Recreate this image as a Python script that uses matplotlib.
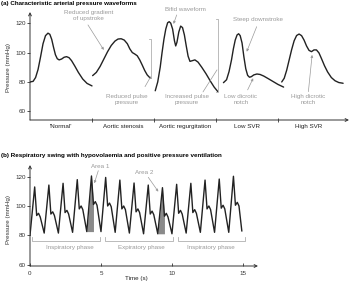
import numpy as np
import matplotlib
matplotlib.use("Agg")
import matplotlib.pyplot as plt

plt.rcParams['font.family'] = ['Liberation Sans', 'DejaVu Sans']

# ---- panel (a): characteristic waveforms (x in category widths, y in mmHg)
categories = ["'Normal'", "Aortic stenosis", "Aortic regurgitation", "Low SVR", "High SVR"]

normal_x = [0, 0.05, 0.09, 0.13, 0.17, 0.21, 0.25, 0.29, 0.32, 0.35, 0.38, 0.41,
            0.44, 0.47, 0.51, 0.55, 0.59, 0.63, 0.67, 0.72, 0.78, 0.85, 0.92, 1.0]
normal_y = [80, 80.4, 83, 88.5, 97, 106, 111.5, 113.2, 112.4, 109, 103.5, 98.5,
            95.8, 95, 95.6, 96.8, 97.2, 96.5, 94.5, 91, 86.5, 82, 79, 77.3]

stenosis_x = [1.01, 1.07, 1.13, 1.19, 1.25, 1.31, 1.37, 1.42, 1.47, 1.52, 1.57,
              1.61, 1.65, 1.69, 1.73, 1.77, 1.81, 1.85, 1.89, 1.93, 1.95]
stenosis_y = [84.3, 86.5, 90.5, 95.5, 100.5, 104.8, 107.8, 109.2, 109.4, 108.5, 106,
              102.5, 100, 99, 97.8, 95, 91.5, 87.8, 84.8, 83, 82.5]

regurg_x = [2.02, 2.06, 2.10, 2.13, 2.16, 2.19, 2.22, 2.245, 2.27, 2.30, 2.33, 2.35,
            2.37, 2.40, 2.43, 2.46, 2.49, 2.52, 2.55, 2.58, 2.62, 2.66, 2.71, 2.77,
            2.84, 2.91, 2.97, 3.03]
regurg_y = [74, 80, 90, 100, 109, 116, 120.3, 121, 120, 116, 108, 104.5,
            107, 114, 118, 117, 112, 104.5, 97.5, 94, 94.5, 95, 93.5, 90,
            85.5, 80.5, 76.5, 73.4]

low_svr_x = [3.12, 3.17, 3.21, 3.25, 3.28, 3.31, 3.34, 3.365, 3.39, 3.42, 3.45, 3.48,
             3.51, 3.54, 3.57, 3.61, 3.66, 3.71, 3.77, 3.84, 3.92, 4.0, 4.09]
low_svr_y = [79.5, 81.5, 87, 95, 102.5, 108.5, 112, 112.8, 111.5, 106.5, 97, 89,
             84.5, 83.2, 83.6, 84.8, 85.4, 85.1, 84, 82.3, 80.3, 78.3, 76.5]

high_svr_x = [4.06, 4.10, 4.14, 4.18, 4.22, 4.26, 4.30, 4.34, 4.38, 4.42, 4.46, 4.50,
              4.54, 4.58, 4.62, 4.66, 4.70, 4.75, 4.80, 4.86, 4.92, 4.98, 5.05]
high_svr_y = [80, 82.5, 88, 95, 102, 108, 111.6, 112.6, 111.5, 108.5, 104.5, 101.5,
              100.6, 101.8, 101.8, 99.8, 96, 91, 86.8, 83, 80.8, 79.6, 79.1]

# pulse pressure bars (x, low, high)
stenosis_bar = (1.95, 83, 109.4)
regurg_bar = (3.03, 73.2, 122.9)

# ---- panel (b): respiratory swing, one beat per second
beat_start = [0, 1, 2, 3, 4, 5, 6, 7, 8, 9, 10, 11, 12, 13, 14]
beat_trough = [80, 81.5, 81.5, 82, 82.5, 82.5, 82, 81.5, 81, 81, 81, 81.5, 82, 82, 82]
beat_peak = [113, 114.3, 115.5, 118, 120.5, 119.5, 117.7, 115.7, 114.3, 112.5,
             114.8, 115.5, 117.7, 118.4, 120.3]
beat_notch = [93.5, 94.5, 95.5, 98, 101, 100, 98, 96, 94.5, 93,
              95, 95.5, 98, 98.5, 100.5]
beat_bump = [95, 96, 97, 100, 103, 102, 100, 98, 96.5, 95,
             97, 97.5, 100, 100.5, 102.5]
beat_after = [92.5, 93.5, 94.5, 97.5, 100.5, 99.5, 97.5, 95.5, 94, 92.5,
              94.5, 95, 97.5, 98, 100]
end_time, end_value = 14.92, 83
area_beats = [4, 9]

phase_labels = ["Inspiratory phase", "Expiratory phase", "Inspiratory phase"]
phase_spans = [(0.12, 4.9), (5.28, 10.07), (10.4, 15.14)]
phase_text_x = [2.83, 7.86, 12.77]

ink = '#222222'
axis_col = '#333333'
grey = '#9a9a9a'
fs = 4.5

fig = plt.figure(figsize=(3.5, 2.83), dpi=100)


def arrow_axes(ax):
    for s in ax.spines.values():
        s.set_visible(False)
    kw = dict(arrowstyle='->', lw=0.7, color=axis_col, shrinkA=0, shrinkB=0,
              mutation_scale=5)
    ax.annotate('', xy=(0, 1), xytext=(0, 0), xycoords='axes fraction', arrowprops=kw)
    ax.annotate('', xy=(1, 0), xytext=(0, 0), xycoords='axes fraction', arrowprops=kw)
    ax.patch.set_alpha(0)


def note(ax, txt, xy, xytext, head=True):
    ax.annotate(txt, xy=xy, xytext=xytext, color=grey, fontsize=fs,
                arrowprops=dict(arrowstyle='-|>' if head else '-', color=grey, lw=0.5,
                                mutation_scale=3.5, shrinkA=0, shrinkB=0))


def label(ax, txt, x, y):
    ax.text(x, y, txt, color=grey, fontsize=fs, ha='center', va='center', linespacing=1.2)


# ---------------- panel (a)
ax = fig.add_axes([30 / 350, 1 - 120 / 283, 319 / 350, 108 / 283])
ax.set_xlim(0, 5.145)
ax.set_ylim(54.1, 127.6)
arrow_axes(ax)
for xs, ys in [(normal_x, normal_y), (stenosis_x, stenosis_y), (regurg_x, regurg_y),
               (low_svr_x, low_svr_y), (high_svr_x, high_svr_y)]:
    ax.plot(xs, ys, color=ink, lw=1.0, solid_joinstyle='round', solid_capstyle='round')

for bx, lo, hi in [stenosis_bar, regurg_bar]:
    ax.plot([bx - 0.03, bx, bx, bx - 0.03], [hi, hi, lo, lo], color='#b0b0b0', lw=0.6)

ax.set_yticks([60, 80, 100, 120])
ax.set_xticks([1, 2, 3, 4])
ax.set_xticklabels([])
ax.set_xticks([0.5, 1.5, 2.5, 3.5, 4.5], minor=True)
ax.set_xticklabels(categories, minor=True)
ax.tick_params(axis='y', direction='out', length=2, width=0.6, color=axis_col,
               labelsize=fs, labelcolor=axis_col, pad=1)
ax.tick_params(axis='x', which='major', direction='inout', length=3, width=0.6, color=axis_col)
ax.tick_params(axis='x', which='minor', length=0, labelsize=fs, labelcolor=ink, pad=3)

label(ax, "Reduced gradient\nof upstroke", 0.95, 125.4)
note(ax, '', (1.19, 101.8), (0.935, 118.8))
label(ax, "Reduced pulse\npressure", 1.56, 68.0)
note(ax, '', (1.947, 83.6), (1.855, 76.8), head=False)
label(ax, "Bifid waveform", 2.5, 129.5)
note(ax, '', (2.315, 119.5), (2.366, 125.6))
label(ax, "Increased pulse\npressure", 2.53, 68.0)
note(ax, '', (3.016, 88.2), (2.79, 73.2), head=False)
label(ax, "Steep downstroke", 3.68, 122.2)
note(ax, '', (3.495, 100.6), (3.656, 117.6))
label(ax, "Low dicrotic\nnotch", 3.40, 68.0)
note(ax, '', (3.60, 82.5), (3.51, 74.6))
label(ax, "High dicrotic\nnotch", 4.48, 68.0)
note(ax, '', (4.55, 98.4), (4.49, 73.4))

# ---------------- panel (b)
bx_ax = fig.add_axes([30 / 350, 1 - 266 / 283, 228 / 350, 101 / 283])
bx_ax.set_xlim(0, 16.06)
bx_ax.set_ylim(59.0, 128)
arrow_axes(bx_ax)

t, p = [], []
for k, t0 in enumerate(beat_start):
    t += [t0, t0 + 0.33, t0 + 0.47, t0 + 0.6, t0 + 0.72]
    p += [beat_trough[k], beat_peak[k], beat_notch[k], beat_bump[k], beat_after[k]]
t.append(end_time)
p.append(end_value)

for k in area_beats:
    i0 = 5 * k
    bx_ax.fill_between(t[i0:i0 + 3], p[i0:i0 + 3], beat_trough[k], color='#8a8a8a', lw=0)
bx_ax.plot(t, p, color=ink, lw=1.0, solid_joinstyle='round')

for (a, b), txt, tx in zip(phase_spans, phase_labels, phase_text_x):
    bx_ax.plot([a, a, b, b], [78.8, 76.3, 76.3, 78.8], color='#b0b0b0', lw=0.6)
    label(bx_ax, txt, tx, 71.5)

label(bx_ax, "Area 1", 4.93, 127.3)
note(bx_ax, '', (4.53, 115.5), (4.81, 124.1))
label(bx_ax, "Area 2", 8.05, 122.7)
note(bx_ax, '', (9.04, 109.8), (8.33, 119.6))

bx_ax.set_yticks([60, 80, 100, 120])
bx_ax.set_xticks([0, 5, 10, 15])
bx_ax.tick_params(axis='y', direction='out', length=2, width=0.6, color=axis_col,
                  labelsize=fs, labelcolor=axis_col, pad=1)
bx_ax.tick_params(axis='x', direction='in', length=2, width=0.6, color=axis_col,
                  labelsize=fs, labelcolor=axis_col, pad=3.5)
bx_ax.text(7.5, 50.4, "Time (s)", fontsize=fs, color=ink, ha='center', va='center')

# titles and y labels
fig.text(0.003, 1 - 4 / 283, "(a) Characteristic arterial pressure waveforms",
         fontsize=4.5, fontweight='bold', color='black', va='center')
fig.text(0.003, 1 - 156 / 283,
         "(b) Respiratory swing with hypovolaemia and positive pressure ventilation",
         fontsize=4.5, fontweight='bold', color='black', va='center')
fig.text(8.3 / 350, 1 - 68 / 283, "Pressure (mmHg)", rotation=90, fontsize=fs,
         color=axis_col, ha='center', va='center')
fig.text(8.3 / 350, 1 - 220 / 283, "Pressure (mmHg)", rotation=90, fontsize=fs,
         color=axis_col, ha='center', va='center')

fig.savefig('out.png', dpi=100)
